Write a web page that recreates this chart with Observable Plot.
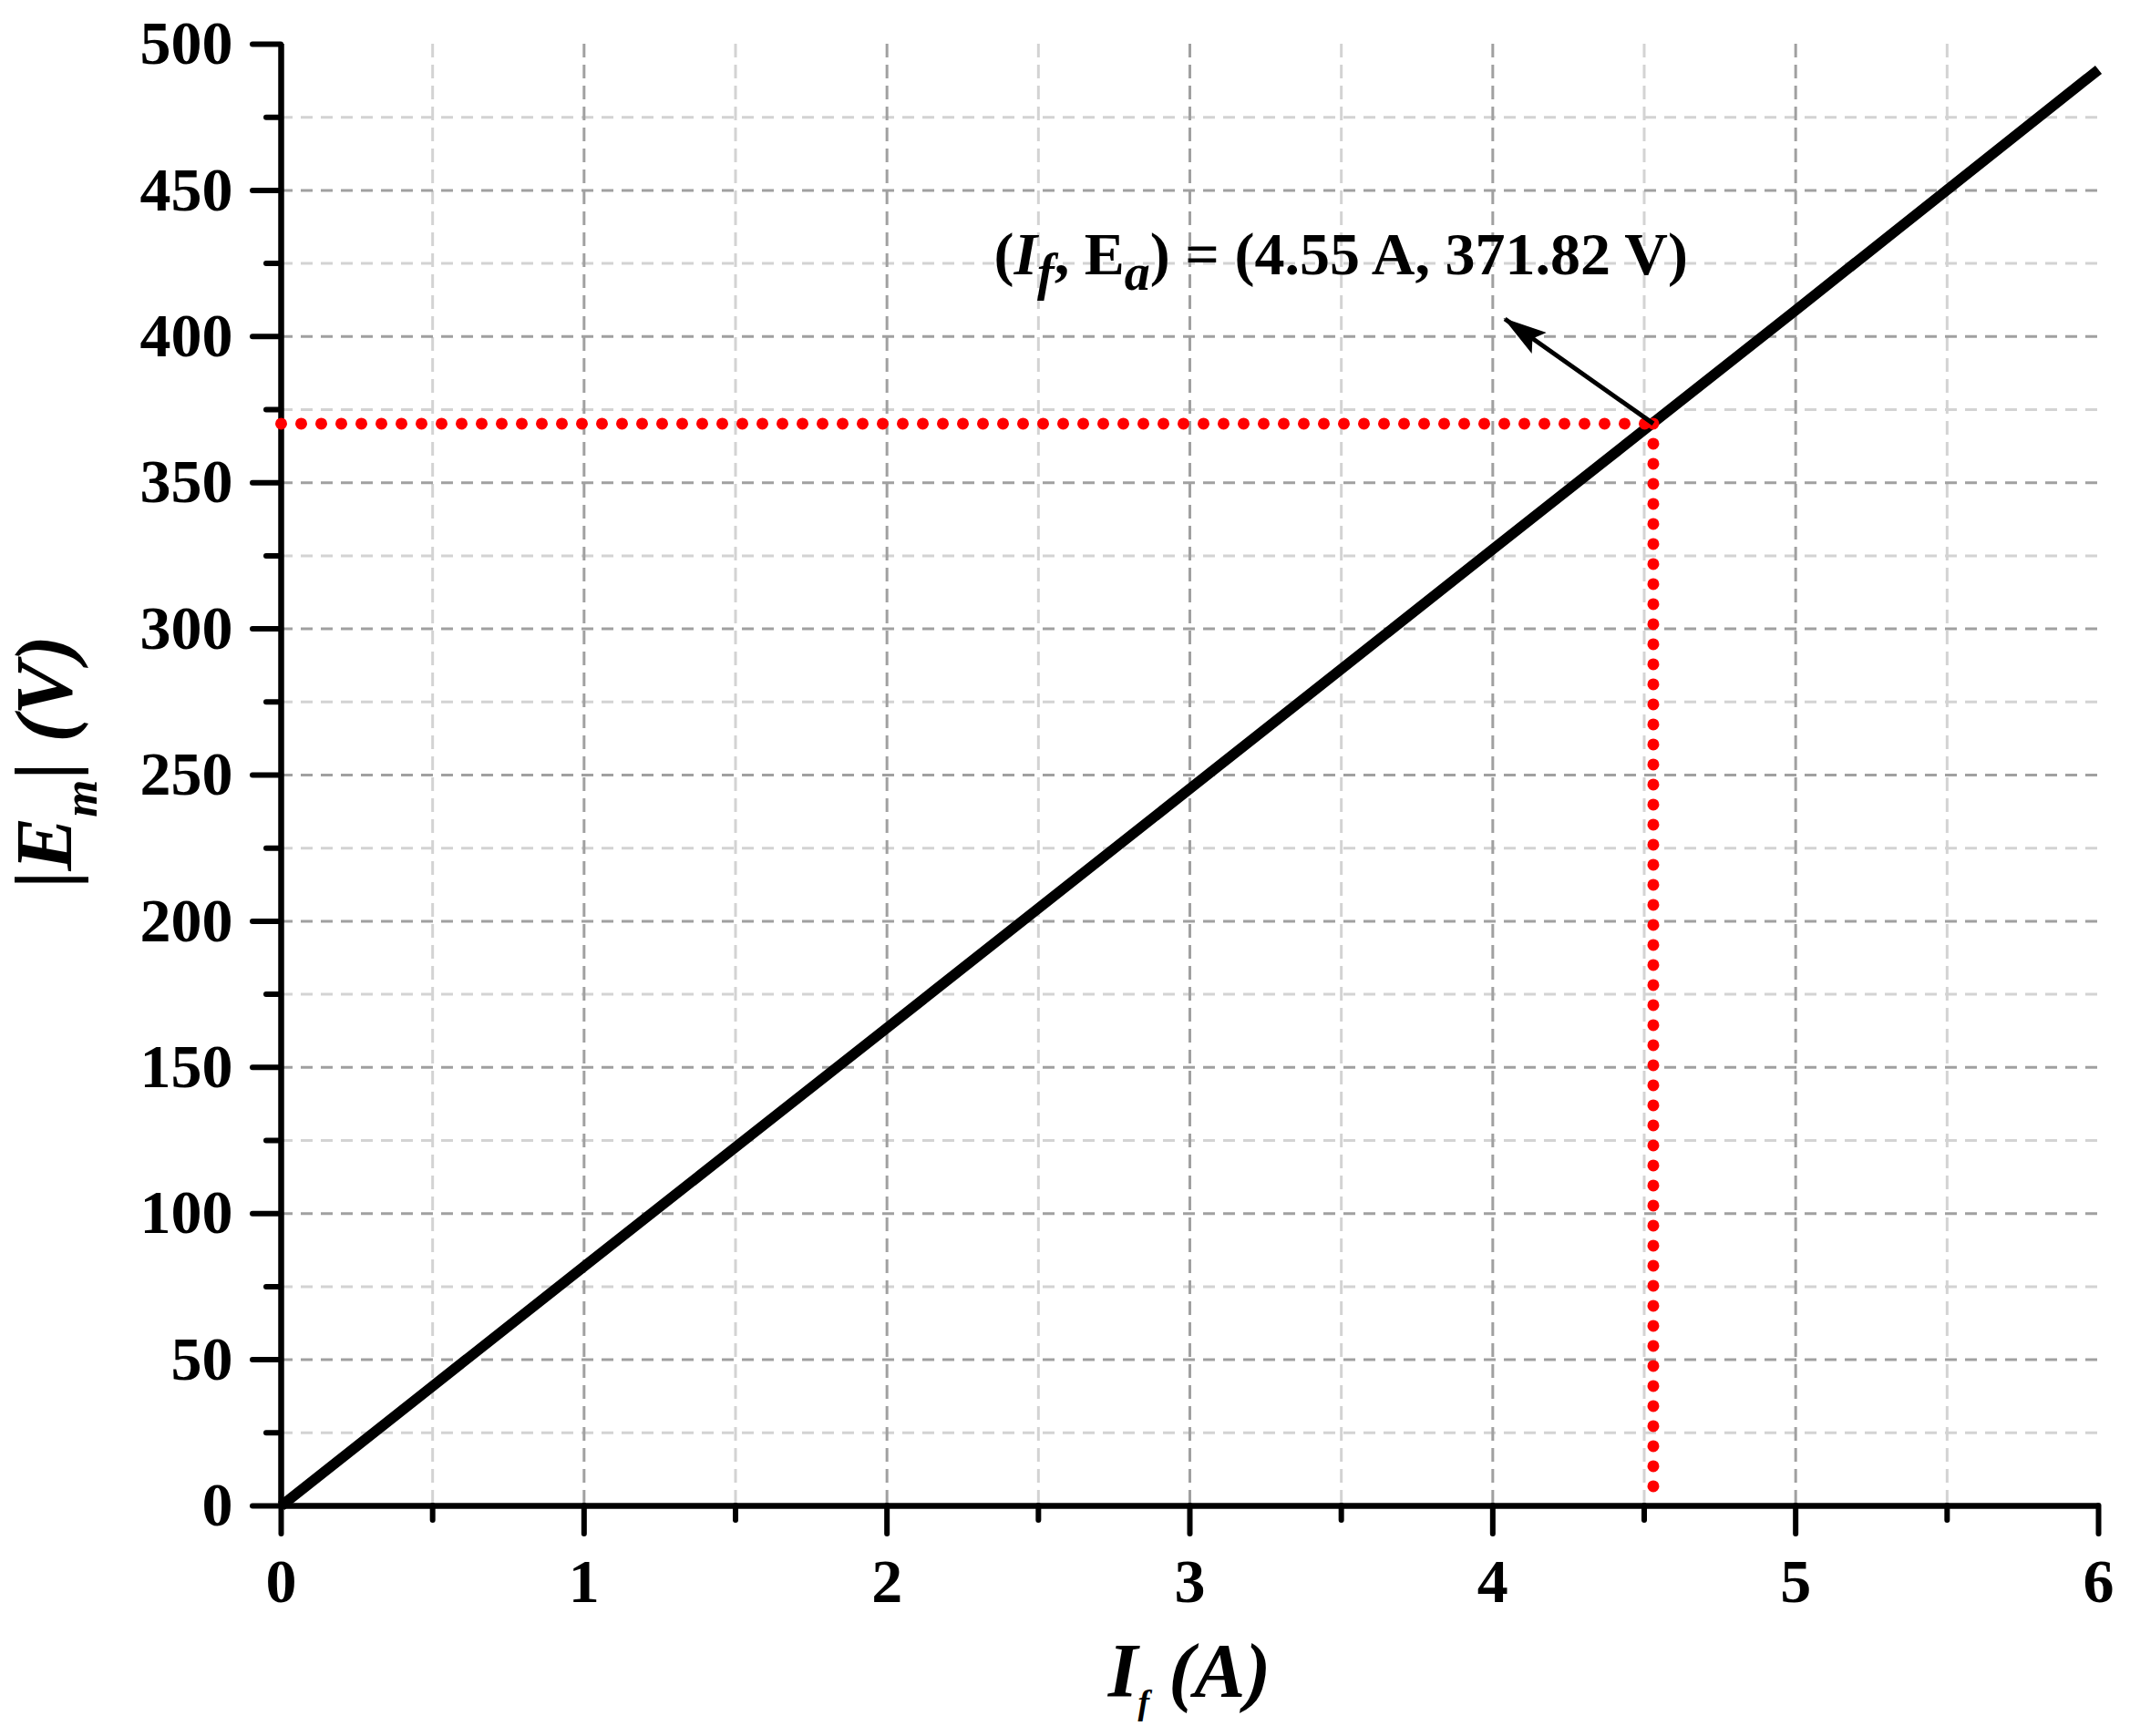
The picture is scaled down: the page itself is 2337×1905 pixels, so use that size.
<!DOCTYPE html>
<html>
<head>
<meta charset="utf-8">
<script src="https://cdn.jsdelivr.net/npm/d3@7"></script>
<script src="https://cdn.jsdelivr.net/npm/@observablehq/plot@0.6"></script>
<style>
  html, body { margin: 0; padding: 0; background: #fff; }
  #chart svg { display: block; }
</style>
</head>
<body>
<div id="chart"></div>
<script>
// ---- data ----
const fieldCurrent = [0, 1, 2, 3, 4, 4.55, 5, 6];                 // I_f (A)
const emfValues    = [0, 81.9, 163.5, 245.3, 327.2, 372.2, 409.0, 491.3]; // |E_m| (V)

const opPointX = 4.53;   // where the red dotted guides meet
const opPointY = 370.2;
const arrowTipX = 4.04;  // arrow head position
const arrowTipY = 406;
const labelX = 3.5;      // annotation anchor (centre, baseline)
const labelY = 421;

const xMajorTicks = [0, 1, 2, 3, 4, 5, 6];
const xMinorTicks = [0.5, 1.5, 2.5, 3.5, 4.5, 5.5];
const yMajorTicks = [0, 50, 100, 150, 200, 250, 300, 350, 400, 450, 500];
const yMinorTicks = [25, 75, 125, 175, 225, 275, 325, 375, 425, 475];
const xGridMajor = [1, 2, 3, 4, 5];
const yGridMajor = [50, 100, 150, 200, 250, 300, 350, 400, 450];

const annotationParts = [
  {t: "("}, {t: "I", i: true}, {t: "f", i: true, sub: true},
  {t: ", E"}, {t: "a", i: true, sub: true}, {t: ") = (4.55 A, 371.82 V)"}
];
const xTitleParts = [{t: "I", i: true}, {t: "f", i: true, sub: true}, {t: " (A)", i: true}];
const yTitleParts = [{t: "|"}, {t: "E", i: true}, {t: "m", i: true, sub: true}, {t: "| "}, {t: "(V)", i: true}];

// ---- build ----
const curve = fieldCurrent.map((x, k) => ({x, y: emfValues[k]}));
const hGuide = [{x: 0, y: opPointY}, {x: opPointX, y: opPointY}];
const vGuide = [{x: opPointX, y: opPointY}, {x: opPointX, y: 0}];
const arrowData = [{x: opPointX, y: opPointY}, {x: arrowTipX, y: arrowTipY}];

const FONT = "'Liberation Serif', 'Times New Roman', serif";
const tickText = {fontSize: 68, fontWeight: "bold", fontFamily: FONT};

const plot = Plot.plot({
  width: 2337,
  height: 1905,
  marginLeft: 308,
  marginRight: 35,
  marginTop: 48,
  marginBottom: 253,
  style: {background: "#fff", color: "#000", fontFamily: FONT},
  x: {domain: [0, 6]},
  y: {domain: [0, 500]},
  marks: [
    Plot.gridX({ticks: xMinorTicks, stroke: "#d3d3d3", strokeOpacity: 1, strokeWidth: 3, strokeDasharray: "15,8"}),
    Plot.gridY({ticks: yMinorTicks, stroke: "#d3d3d3", strokeOpacity: 1, strokeWidth: 3, strokeDasharray: "13,9"}),
    Plot.gridX({ticks: xGridMajor, stroke: "#a0a0a0", strokeOpacity: 1, strokeWidth: 3, strokeDasharray: "15,8"}),
    Plot.gridY({ticks: yGridMajor, stroke: "#a0a0a0", strokeOpacity: 1, strokeWidth: 3, strokeDasharray: "13,9"}),
    Plot.axisX({ticks: xMinorTicks, tickSize: 16, strokeWidth: 6, strokeLinecap: "round", tickFormat: () => "", label: null}),
    Plot.axisY({ticks: yMinorTicks, tickSize: 16, strokeWidth: 6, strokeLinecap: "round", tickFormat: () => "", label: null}),
    Plot.axisX({ticks: xMajorTicks, tickSize: 31, tickPadding: 26, strokeWidth: 6, strokeLinecap: "round", tickFormat: d => String(d), label: null, ...tickText}),
    Plot.axisY({ticks: yMajorTicks, tickSize: 31, tickPadding: 22, strokeWidth: 6, strokeLinecap: "round", tickFormat: d => String(d), label: null, ...tickText}),
    Plot.ruleX([0], {y1: 0, y2: 500, strokeWidth: 6.5}),
    Plot.ruleY([0], {x1: 0, x2: 6, strokeWidth: 6.5}),
    Plot.line(curve, {x: "x", y: "y", stroke: "#000", strokeWidth: 11.5, strokeLinecap: "butt"}),
    Plot.line(hGuide, {x: "x", y: "y", stroke: "#ff0000", strokeWidth: 13, strokeDasharray: "0,22", strokeLinecap: "round"}),
    Plot.line(vGuide, {x: "x", y: "y", stroke: "#ff0000", strokeWidth: 13, strokeDasharray: "0,22", strokeLinecap: "round"}),
    Plot.line(arrowData, {x: "x", y: "y", stroke: "#000", strokeWidth: 5, strokeLinecap: "butt", className: "ann-arrow"})
  ]
});

document.getElementById("chart").appendChild(plot);

const svg = d3.select(plot);
const sx = plot.scale("x"), sy = plot.scale("y");

// filled arrow head
svg.append("defs").append("marker")
  .attr("id", "ahead").attr("viewBox", "0 0 48 28")
  .attr("refX", 46).attr("refY", 14)
  .attr("markerWidth", 48).attr("markerHeight", 28)
  .attr("markerUnits", "userSpaceOnUse").attr("orient", "auto")
  .append("path").attr("d", "M0,0L48,14L0,28L9,14Z").attr("fill", "#000");
svg.selectAll(".ann-arrow path").attr("marker-end", "url(#ahead)");

function richText(parent, parts, size, subScale, subShift) {
  const t = parent.append("text")
    .attr("font-family", FONT).attr("font-weight", "bold")
    .attr("font-size", size).attr("fill", "#000");
  let shifted = 0;
  for (const p of parts) {
    const s = t.append("tspan").text(p.t);
    if (p.i) s.attr("font-style", "italic");
    const want = p.sub ? subShift : 0;
    if (want !== shifted) { s.attr("dy", want - shifted); shifted = want; }
    if (p.sub) s.attr("font-size", size * subScale);
  }
  return t;
}

// annotation
richText(svg, annotationParts, 66, 0.85, 17)
  .attr("x", sx.apply(labelX)).attr("y", sy.apply(labelY))
  .attr("text-anchor", "middle");

// x axis title
richText(svg, xTitleParts, 84, 0.45, 19)
  .attr("x", sx.apply(3)).attr("y", sy.apply(0) + 210)
  .attr("text-anchor", "middle");

// y axis title
const yMid = sy.apply(250) - 14;
richText(svg, yTitleParts, 88, 0.6, 28)
  .attr("text-anchor", "middle")
  .attr("transform", `translate(${sx.apply(0) - 230},${yMid}) rotate(-90)`);
</script>
</body>
</html>
